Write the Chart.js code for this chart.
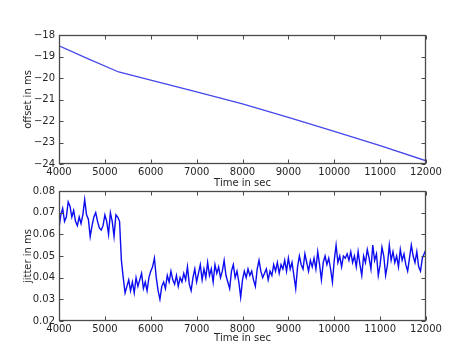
<!DOCTYPE html>
<html>
<head>
<meta charset="utf-8">
<script src="https://cdn.jsdelivr.net/npm/chart.js@4/dist/chart.umd.min.js"></script>
<style>
  html, body { margin: 0; padding: 0; background: #ffffff; }
  body { width: 474px; height: 357px; position: relative; overflow: hidden; }
  canvas { position: absolute; left: 0; }
  #c1 { top: 0; }
  #c2 { top: 170px; }
</style>
</head>
<body>
<canvas id="c1" width="474" height="190"></canvas>
<canvas id="c2" width="474" height="187"></canvas>
<script>
// ---- data ----
const offsetTimes = [4000, 4650, 5300, 6000, 7000, 8000, 9000, 10000, 11000, 12000];
const offsetValues = [-18.5, -19.12, -19.72, -20.1, -20.64, -21.2, -21.83, -22.48, -23.14, -23.85];

const jitterTimes = [
  4000,4040,4080,4120,4160,4200,4240,4280,4320,4360,
  4400,4440,4480,4520,4560,4600,4640,4680,4720,4760,
  4800,4840,4880,4920,4960,5000,5040,5080,5120,5160,
  5200,5240,5280,5320,5360,5400,5440,5480,5520,5560,
  5600,5640,5680,5720,5760,5800,5840,5880,5920,5960,
  6000,6040,6080,6120,6160,6200,6240,6280,6320,6360,
  6400,6440,6480,6520,6560,6600,6640,6680,6720,6760,
  6800,6840,6880,6920,6960,7000,7040,7080,7120,7160,
  7200,7240,7280,7320,7360,7400,7440,7480,7520,7560,
  7600,7640,7680,7720,7760,7800,7840,7880,7920,7960,
  8000,8040,8080,8120,8160,8200,8240,8280,8320,8360,
  8400,8440,8480,8520,8560,8600,8640,8680,8720,8760,
  8800,8840,8880,8920,8960,9000,9040,9080,9120,9160,
  9200,9240,9280,9320,9360,9400,9440,9480,9520,9560,
  9600,9640,9680,9720,9760,9800,9840,9880,9920,9960,
  10000,10040,10080,10120,10160,10200,10240,10280,10320,10360,
  10400,10440,10480,10520,10560,10600,10640,10680,10720,10760,
  10800,10840,10880,10920,10960,11000,11040,11080,11120,11160,
  11200,11240,11280,11320,11360,11400,11440,11480,11520,11560,
  11600,11640,11680,11720,11760,11800,11840,11880,11920,11960,
  12000
];
const jitterValues = [
  0.063,0.069,0.072,0.066,0.068,0.075,0.073,0.068,0.071,0.066,
  0.064,0.068,0.065,0.069,0.076,0.069,0.067,0.059,0.064,0.068,
  0.070,0.066,0.063,0.062,0.064,0.069,0.066,0.060,0.070,0.066,
  0.059,0.069,0.068,0.066,0.048,0.040,0.033,0.036,0.039,0.034,
  0.038,0.033,0.040,0.036,0.039,0.042,0.035,0.038,0.034,0.040,
  0.043,0.045,0.049,0.040,0.034,0.030,0.036,0.038,0.035,0.041,
  0.038,0.043,0.039,0.037,0.041,0.036,0.040,0.038,0.042,0.039,
  0.045,0.037,0.034,0.040,0.044,0.038,0.042,0.046,0.039,0.044,
  0.040,0.047,0.041,0.044,0.038,0.046,0.042,0.045,0.040,0.043,
  0.048,0.041,0.038,0.035,0.043,0.046,0.040,0.043,0.038,0.031,
  0.039,0.043,0.040,0.044,0.041,0.043,0.039,0.036,0.044,0.048,
  0.043,0.040,0.042,0.044,0.039,0.043,0.041,0.046,0.043,0.047,
  0.042,0.046,0.044,0.048,0.043,0.049,0.044,0.047,0.041,0.035,
  0.045,0.050,0.046,0.044,0.051,0.047,0.043,0.048,0.045,0.049,
  0.044,0.052,0.046,0.039,0.047,0.050,0.046,0.049,0.044,0.038,
  0.048,0.055,0.047,0.050,0.045,0.050,0.049,0.051,0.048,0.052,
  0.047,0.050,0.045,0.052,0.046,0.041,0.050,0.047,0.053,0.049,
  0.044,0.055,0.048,0.051,0.041,0.046,0.054,0.050,0.041,0.046,
  0.055,0.048,0.052,0.047,0.050,0.045,0.053,0.048,0.051,0.046,
  0.043,0.049,0.055,0.050,0.047,0.052,0.045,0.043,0.049,0.051,
  0.053
];

const xTickMin = 4000, xTickMax = 12000, xTickStep = 1000;
const offsetYMin = -24, offsetYMax = -18, offsetYStep = 1;
const jitterYMin = 0.02, jitterYMax = 0.08, jitterYStep = 0.01;

// ---- styling ----
const FONT = { family: "'DejaVu Sans', sans-serif", size: 10 };
const TEXT = '#262626';
const FRAME = '#4a4a4a';

const framePlugin = {
  id: 'mplFrame',
  afterDatasetsDraw(chart) {
    const { ctx, chartArea: a, scales } = chart;
    const L = Math.round(a.left) + 0.5, R = Math.round(a.right) - 0.5;
    const T = Math.round(a.top) + 0.5, B = Math.round(a.bottom) - 0.5;
    ctx.save();
    ctx.strokeStyle = FRAME;
    ctx.lineWidth = 1;
    const len = 4;
    ctx.beginPath();
    scales.x.ticks.forEach(t => {
      const px = Math.round(scales.x.getPixelForValue(t.value)) + 0.5;
      ctx.moveTo(px, B); ctx.lineTo(px, B - len);
      ctx.moveTo(px, T); ctx.lineTo(px, T + len);
    });
    scales.y.ticks.forEach(t => {
      const py = Math.round(scales.y.getPixelForValue(t.value)) + 0.5;
      ctx.moveTo(L, py); ctx.lineTo(L + len, py);
      ctx.moveTo(R, py); ctx.lineTo(R - len, py);
    });
    ctx.stroke();
    ctx.lineWidth = 1.3;
    ctx.strokeRect(L, T, R - L, B - T);
    ctx.restore();
  }
};

function makeChart(id, xs, ys, color, lw, yMin, yMax, yStep, yLabel, yFmt, pad, xAxisH) {
  const points = xs.map((x, i) => ({ x: x, y: ys[i] }));
  return new Chart(document.getElementById(id), {
    type: 'line',
    data: { datasets: [{ data: points, borderColor: color, borderWidth: lw, pointRadius: 0, fill: false, tension: 0 }] },
    options: {
      responsive: false,
      animation: false,
      devicePixelRatio: 1,
      layout: { padding: pad },
      plugins: { legend: { display: false }, tooltip: { enabled: false } },
      scales: {
        x: {
          type: 'linear', min: xTickMin, max: xTickMax,
          grid: { display: false, drawTicks: false },
          border: { display: false },
          ticks: { stepSize: xTickStep, autoSkip: false, maxRotation: 0, padding: 2, color: TEXT, font: FONT,
                   callback: v => String(v) },
          title: { display: true, text: 'Time in sec', color: TEXT, font: FONT, padding: { top: 0, bottom: 0 } },
          afterFit: s => { s.height = xAxisH; }
        },
        y: {
          type: 'linear', min: yMin, max: yMax,
          grid: { display: false, drawTicks: false },
          border: { display: false },
          ticks: { stepSize: yStep, autoSkip: false, padding: 4, color: TEXT, font: FONT, callback: yFmt },
          title: { display: true, text: yLabel, color: TEXT, font: FONT, padding: { top: 22, bottom: 0 } },
          afterFit: s => { s.width = 59; }
        }
      }
    },
    plugins: [framePlugin]
  });
}

makeChart('c1', offsetTimes, offsetValues, '#4646ea', 1.3, offsetYMin, offsetYMax, offsetYStep, 'offset in ms',
  v => (v < 0 ? '\u2212' : '') + Math.abs(Math.round(v)),
  { left: 0, right: 48, top: 35, bottom: 1 }, 25);

makeChart('c2', jitterTimes, jitterValues, '#0c0cf0', 1.4, jitterYMin, jitterYMax, jitterYStep, 'jitter in ms',
  v => Number(v).toFixed(2),
  { left: 0, right: 48, top: 21, bottom: 13 }, 23);
</script>
</body>
</html>
